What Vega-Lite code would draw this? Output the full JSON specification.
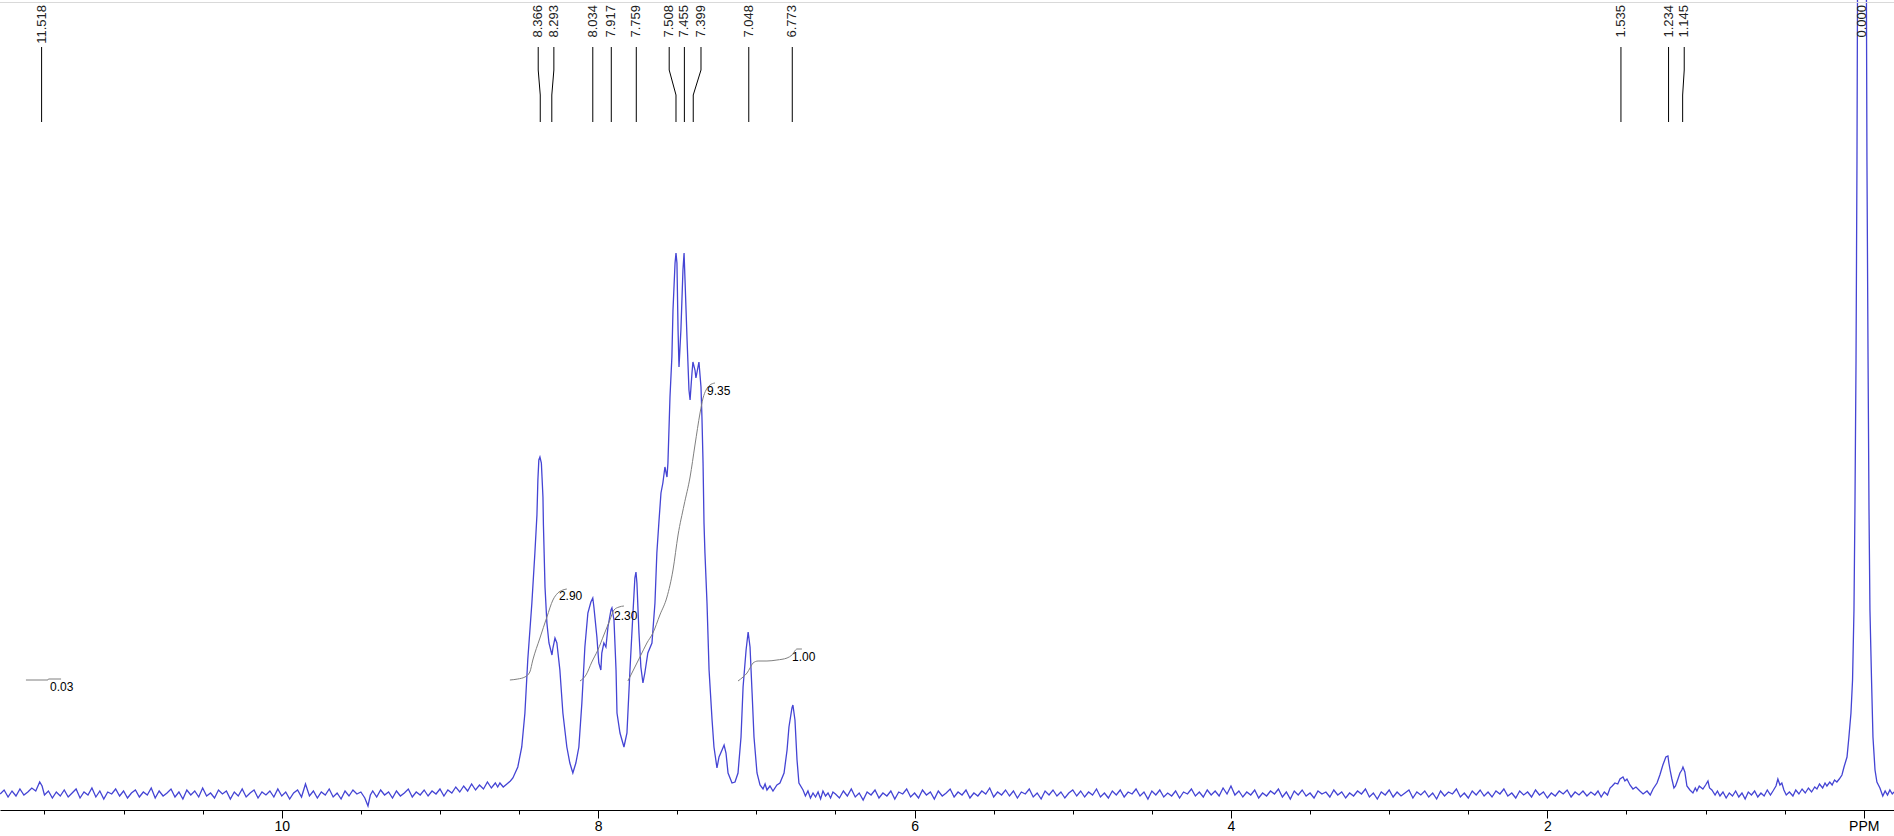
{
"$schema":"https://vega.github.io/schema/vega-lite/v6.json",
"width":1894,"height":810,
"autosize":{"type":"none"},
"padding":{"left":0,"right":0,"top":0,"bottom":26},
"background":"white",
"config":{"view":{"stroke":null},"font":"Liberation Sans"},
"datasets":{
"spec":[
{"p":11.780,"v":16},{"p":11.755,"v":20},{"p":11.730,"v":13},{"p":11.705,"v":19},{"p":11.680,"v":14},{"p":11.655,"v":21},{"p":11.630,"v":15},{"p":11.605,"v":18},{"p":11.580,"v":22},{"p":11.555,"v":19},{"p":11.530,"v":28},{"p":11.515,"v":24},{"p":11.500,"v":15},{"p":11.475,"v":19},{"p":11.450,"v":12},{"p":11.425,"v":18},{"p":11.400,"v":14},{"p":11.375,"v":20},{"p":11.350,"v":13},{"p":11.325,"v":17},{"p":11.300,"v":21},{"p":11.275,"v":12},{"p":11.250,"v":18},{"p":11.225,"v":15},{"p":11.200,"v":22},{"p":11.175,"v":13},{"p":11.150,"v":19},{"p":11.125,"v":11},{"p":11.100,"v":18},{"p":11.075,"v":16},{"p":11.050,"v":21},{"p":11.025,"v":14},{"p":11.000,"v":19},{"p":10.975,"v":12},{"p":10.950,"v":17},{"p":10.925,"v":20},{"p":10.900,"v":13},{"p":10.875,"v":18},{"p":10.850,"v":15},{"p":10.825,"v":22},{"p":10.800,"v":12},{"p":10.775,"v":19},{"p":10.750,"v":14},{"p":10.725,"v":17},{"p":10.700,"v":21},{"p":10.675,"v":13},{"p":10.650,"v":18},{"p":10.625,"v":11},{"p":10.600,"v":20},{"p":10.575,"v":15},{"p":10.550,"v":19},{"p":10.525,"v":13},{"p":10.500,"v":22},{"p":10.475,"v":14},{"p":10.450,"v":17},{"p":10.425,"v":12},{"p":10.400,"v":20},{"p":10.375,"v":16},{"p":10.350,"v":19},{"p":10.325,"v":11},{"p":10.300,"v":18},{"p":10.275,"v":14},{"p":10.250,"v":21},{"p":10.225,"v":13},{"p":10.200,"v":17},{"p":10.175,"v":20},{"p":10.150,"v":12},{"p":10.125,"v":18},{"p":10.100,"v":15},{"p":10.075,"v":19},{"p":10.050,"v":13},{"p":10.025,"v":21},{"p":10.000,"v":14},{"p":9.975,"v":18},{"p":9.950,"v":11},{"p":9.925,"v":17},{"p":9.900,"v":20},{"p":9.875,"v":13},{"p":9.850,"v":26},{"p":9.825,"v":14},{"p":9.800,"v":19},{"p":9.775,"v":12},{"p":9.750,"v":18},{"p":9.725,"v":15},{"p":9.700,"v":21},{"p":9.675,"v":13},{"p":9.650,"v":17},{"p":9.625,"v":11},{"p":9.600,"v":19},{"p":9.575,"v":14},{"p":9.550,"v":20},{"p":9.525,"v":16},{"p":9.500,"v":18},{"p":9.475,"v":12},{"p":9.455,"v":4},{"p":9.440,"v":15},{"p":9.425,"v":19},{"p":9.400,"v":13},{"p":9.375,"v":20},{"p":9.350,"v":15},{"p":9.325,"v":18},{"p":9.300,"v":12},{"p":9.275,"v":19},{"p":9.250,"v":14},{"p":9.225,"v":17},{"p":9.200,"v":21},{"p":9.175,"v":13},{"p":9.150,"v":18},{"p":9.125,"v":15},{"p":9.100,"v":20},{"p":9.075,"v":14},{"p":9.050,"v":19},{"p":9.025,"v":16},{"p":9.000,"v":21},{"p":8.975,"v":14},{"p":8.950,"v":20},{"p":8.925,"v":17},{"p":8.900,"v":23},
{"p":8.875,"v":18},{"p":8.850,"v":24},{"p":8.825,"v":19},{"p":8.800,"v":26},{"p":8.775,"v":20},{"p":8.750,"v":25},{"p":8.725,"v":21},{"p":8.700,"v":28},{"p":8.675,"v":22},{"p":8.650,"v":27},{"p":8.635,"v":23},
{"p":8.621,"v":27},{"p":8.600,"v":23},{"p":8.577,"v":26},{"p":8.555,"v":29},{"p":8.539,"v":32},{"p":8.508,"v":43},{"p":8.483,"v":63},{"p":8.463,"v":97},{"p":8.445,"v":150},{"p":8.419,"v":207},{"p":8.400,"v":257},{"p":8.387,"v":295},{"p":8.381,"v":330},{"p":8.375,"v":350},{"p":8.368,"v":353},{"p":8.359,"v":347},{"p":8.349,"v":313},{"p":8.346,"v":285},{"p":8.336,"v":223},{"p":8.324,"v":187},{"p":8.311,"v":167},{"p":8.292,"v":155},{"p":8.286,"v":162},{"p":8.273,"v":172},{"p":8.261,"v":167},{"p":8.242,"v":140},{"p":8.223,"v":97},{"p":8.198,"v":63},{"p":8.179,"v":47},{"p":8.160,"v":37},{"p":8.141,"v":47},{"p":8.122,"v":63},{"p":8.103,"v":107},{"p":8.084,"v":163},{"p":8.065,"v":197},{"p":8.046,"v":208},{"p":8.034,"v":212},{"p":8.027,"v":203},{"p":8.008,"v":173},{"p":7.996,"v":147},{"p":7.983,"v":140},{"p":7.977,"v":157},{"p":7.964,"v":167},{"p":7.951,"v":163},{"p":7.938,"v":183},{"p":7.919,"v":200},{"p":7.913,"v":202},{"p":7.900,"v":190},{"p":7.887,"v":140},{"p":7.881,"v":97},{"p":7.862,"v":77},{"p":7.837,"v":63},{"p":7.818,"v":77},{"p":7.799,"v":140},{"p":7.780,"v":197},{"p":7.768,"v":232},{"p":7.761,"v":238},{"p":7.755,"v":227},{"p":7.742,"v":177},{"p":7.730,"v":143},{"p":7.717,"v":127},{"p":7.705,"v":137},{"p":7.686,"v":157},{"p":7.660,"v":167},{"p":7.641,"v":207},{"p":7.629,"v":257},{"p":7.616,"v":288},{"p":7.603,"v":317},{"p":7.591,"v":327},{"p":7.578,"v":343},{"p":7.565,"v":333},{"p":7.559,"v":347},{"p":7.546,"v":413},{"p":7.534,"v":453},{"p":7.527,"v":500},{"p":7.514,"v":547},{"p":7.508,"v":557},{"p":7.502,"v":547},{"p":7.495,"v":480},{"p":7.489,"v":443},{"p":7.477,"v":480},{"p":7.464,"v":540},{"p":7.457,"v":557},{"p":7.451,"v":530},{"p":7.438,"v":470},{"p":7.426,"v":420},{"p":7.419,"v":410},{"p":7.407,"v":437},{"p":7.401,"v":448},{"p":7.388,"v":440},{"p":7.382,"v":432},{"p":7.369,"v":443},{"p":7.363,"v":448},{"p":7.350,"v":423},{"p":7.344,"v":393},{"p":7.337,"v":347},{"p":7.331,"v":287},{"p":7.325,"v":257},{"p":7.312,"v":207},{"p":7.299,"v":140},{"p":7.280,"v":90},{"p":7.268,"v":63},{"p":7.249,"v":42},{"p":7.236,"v":53},{"p":7.217,"v":60},{"p":7.204,"v":65},{"p":7.192,"v":57},{"p":7.179,"v":37},{"p":7.154,"v":27},{"p":7.135,"v":28},{"p":7.116,"v":37},{"p":7.097,"v":73},{"p":7.084,"v":123},{"p":7.065,"v":160},{"p":7.052,"v":178},{"p":7.040,"v":163},{"p":7.027,"v":117},{"p":7.015,"v":73},{"p":6.996,"v":37},{"p":6.977,"v":25},{"p":6.958,"v":21},{"p":6.945,"v":26},{"p":6.933,"v":20},{"p":6.914,"v":24},{"p":6.895,"v":19},{"p":6.870,"v":25},{"p":6.851,"v":27},{"p":6.825,"v":37},{"p":6.806,"v":60},{"p":6.794,"v":83},{"p":6.775,"v":102},{"p":6.769,"v":105},{"p":6.756,"v":90},{"p":6.743,"v":50},{"p":6.731,"v":27},{"p":6.705,"v":20},{"p":6.690,"v":14},{"p":6.674,"v":19},{"p":6.658,"v":12},{"p":6.642,"v":17},{"p":6.626,"v":13},{"p":6.610,"v":18},{"p":6.594,"v":11},{"p":6.579,"v":19},{"p":6.563,"v":14},{"p":6.547,"v":17},{"p":6.531,"v":12},{"p":6.516,"v":18},
{"p":6.500,"v":16},{"p":6.475,"v":12},{"p":6.450,"v":19},{"p":6.425,"v":14},{"p":6.400,"v":21},{"p":6.375,"v":13},{"p":6.350,"v":17},{"p":6.325,"v":10},{"p":6.300,"v":18},{"p":6.275,"v":15},{"p":6.250,"v":20},{"p":6.225,"v":12},{"p":6.200,"v":17},{"p":6.175,"v":14},{"p":6.150,"v":19},{"p":6.125,"v":11},{"p":6.100,"v":18},{"p":6.075,"v":16},{"p":6.050,"v":21},{"p":6.025,"v":13},{"p":6.000,"v":17},{"p":5.975,"v":12},{"p":5.950,"v":20},{"p":5.925,"v":15},{"p":5.900,"v":18},{"p":5.875,"v":11},{"p":5.850,"v":19},{"p":5.825,"v":14},{"p":5.800,"v":17},{"p":5.775,"v":21},{"p":5.750,"v":13},{"p":5.725,"v":18},{"p":5.700,"v":15},{"p":5.675,"v":20},{"p":5.650,"v":12},{"p":5.625,"v":17},{"p":5.600,"v":14},{"p":5.575,"v":19},{"p":5.550,"v":16},{"p":5.525,"v":22},{"p":5.500,"v":13},{"p":5.475,"v":18},{"p":5.450,"v":15},{"p":5.425,"v":20},{"p":5.400,"v":14},{"p":5.375,"v":19},{"p":5.350,"v":12},{"p":5.325,"v":18},{"p":5.300,"v":16},{"p":5.275,"v":21},{"p":5.250,"v":13},{"p":5.225,"v":17},{"p":5.200,"v":11},{"p":5.175,"v":19},{"p":5.150,"v":15},{"p":5.125,"v":20},{"p":5.100,"v":14},{"p":5.075,"v":18},{"p":5.050,"v":12},{"p":5.025,"v":17},{"p":5.000,"v":20},{"p":4.975,"v":14},{"p":4.950,"v":19},{"p":4.925,"v":13},{"p":4.900,"v":18},{"p":4.875,"v":15},{"p":4.850,"v":21},{"p":4.825,"v":13},{"p":4.800,"v":17},{"p":4.775,"v":12},{"p":4.750,"v":19},{"p":4.725,"v":15},{"p":4.700,"v":20},{"p":4.675,"v":13},{"p":4.650,"v":18},{"p":4.625,"v":16},{"p":4.600,"v":21},{"p":4.575,"v":14},{"p":4.550,"v":18},{"p":4.525,"v":11},{"p":4.500,"v":19},{"p":4.475,"v":15},{"p":4.450,"v":20},{"p":4.425,"v":13},{"p":4.400,"v":17},{"p":4.375,"v":14},{"p":4.350,"v":19},{"p":4.325,"v":12},{"p":4.300,"v":18},{"p":4.275,"v":16},{"p":4.250,"v":21},{"p":4.225,"v":14},{"p":4.200,"v":18},{"p":4.175,"v":13},{"p":4.150,"v":20},{"p":4.125,"v":15},{"p":4.100,"v":19},{"p":4.075,"v":14},{"p":4.050,"v":22},{"p":4.025,"v":16},{"p":4.000,"v":24},{"p":3.975,"v":15},{"p":3.950,"v":19},{"p":3.925,"v":13},{"p":3.900,"v":18},{"p":3.875,"v":15},{"p":3.850,"v":20},{"p":3.825,"v":12},{"p":3.800,"v":17},{"p":3.775,"v":14},{"p":3.750,"v":19},{"p":3.725,"v":16},{"p":3.700,"v":21},{"p":3.675,"v":13},{"p":3.650,"v":18},{"p":3.625,"v":11},{"p":3.600,"v":19},{"p":3.575,"v":15},{"p":3.550,"v":20},{"p":3.525,"v":14},{"p":3.500,"v":17},{"p":3.475,"v":12},{"p":3.450,"v":19},{"p":3.425,"v":16},{"p":3.400,"v":18},{"p":3.375,"v":13},{"p":3.350,"v":20},{"p":3.325,"v":15},{"p":3.300,"v":18},{"p":3.275,"v":12},{"p":3.250,"v":17},{"p":3.225,"v":14},{"p":3.200,"v":19},{"p":3.175,"v":16},{"p":3.150,"v":21},{"p":3.125,"v":13},{"p":3.100,"v":17},{"p":3.075,"v":11},{"p":3.050,"v":18},{"p":3.025,"v":15},{"p":3.000,"v":20},{"p":2.975,"v":13},{"p":2.950,"v":18},{"p":2.925,"v":14},{"p":2.900,"v":17},{"p":2.875,"v":20},{"p":2.850,"v":12},{"p":2.825,"v":18},{"p":2.800,"v":15},{"p":2.775,"v":19},{"p":2.750,"v":13},{"p":2.725,"v":17},{"p":2.700,"v":11},{"p":2.675,"v":19},{"p":2.650,"v":14},{"p":2.625,"v":18},{"p":2.600,"v":16},{"p":2.575,"v":21},{"p":2.550,"v":13},{"p":2.525,"v":17},{"p":2.500,"v":12},{"p":2.475,"v":19},{"p":2.450,"v":15},{"p":2.425,"v":20},{"p":2.400,"v":14},{"p":2.375,"v":18},{"p":2.350,"v":13},{"p":2.325,"v":19},{"p":2.300,"v":16},{"p":2.275,"v":21},{"p":2.250,"v":14},{"p":2.225,"v":17},{"p":2.200,"v":12},{"p":2.175,"v":19},{"p":2.150,"v":15},{"p":2.125,"v":18},{"p":2.100,"v":13},{"p":2.075,"v":20},{"p":2.050,"v":15},{"p":2.025,"v":18},{"p":2.000,"v":12},{"p":1.975,"v":17},{"p":1.950,"v":14},{"p":1.925,"v":19},{"p":1.900,"v":16},{"p":1.875,"v":20},{"p":1.850,"v":13},{"p":1.825,"v":18},{"p":1.800,"v":15},{"p":1.775,"v":19},{"p":1.750,"v":14},{"p":1.725,"v":18},
{"p":1.700,"v":15},{"p":1.680,"v":19},{"p":1.660,"v":13},{"p":1.640,"v":18},{"p":1.620,"v":15},{"p":1.604,"v":22},{"p":1.590,"v":24},{"p":1.573,"v":27},{"p":1.555,"v":26},{"p":1.541,"v":31},{"p":1.522,"v":33},{"p":1.510,"v":29},{"p":1.497,"v":31},{"p":1.478,"v":25},{"p":1.459,"v":21},{"p":1.440,"v":23},{"p":1.415,"v":19},{"p":1.395,"v":16},{"p":1.370,"v":19},{"p":1.350,"v":15},{"p":1.332,"v":21},{"p":1.307,"v":27},{"p":1.289,"v":35},{"p":1.270,"v":45},{"p":1.251,"v":53},{"p":1.238,"v":54},{"p":1.232,"v":47},{"p":1.222,"v":38},{"p":1.213,"v":31},{"p":1.200,"v":22},{"p":1.190,"v":24},{"p":1.181,"v":28},{"p":1.162,"v":37},{"p":1.150,"v":40},{"p":1.143,"v":43},{"p":1.131,"v":38},{"p":1.118,"v":24},{"p":1.099,"v":20},{"p":1.080,"v":17},{"p":1.065,"v":22},{"p":1.055,"v":19},{"p":1.040,"v":24},{"p":1.017,"v":21},{"p":1.000,"v":25},{"p":0.985,"v":29},{"p":0.975,"v":22},{"p":0.960,"v":20},{"p":0.940,"v":15},{"p":0.925,"v":19},{"p":0.909,"v":14},{"p":0.890,"v":18},{"p":0.870,"v":12},{"p":0.850,"v":17},{"p":0.830,"v":14},{"p":0.810,"v":19},{"p":0.790,"v":13},{"p":0.770,"v":17},{"p":0.750,"v":11},{"p":0.730,"v":18},{"p":0.710,"v":15},{"p":0.690,"v":19},{"p":0.670,"v":13},{"p":0.650,"v":17},{"p":0.630,"v":14},{"p":0.610,"v":20},{"p":0.590,"v":15},{"p":0.574,"v":19},{"p":0.555,"v":24},{"p":0.543,"v":31},{"p":0.530,"v":25},{"p":0.518,"v":27},{"p":0.505,"v":20},{"p":0.490,"v":15},{"p":0.470,"v":18},{"p":0.448,"v":14},{"p":0.430,"v":20},{"p":0.410,"v":16},{"p":0.390,"v":21},{"p":0.370,"v":17},{"p":0.350,"v":22},{"p":0.330,"v":18},{"p":0.310,"v":23},{"p":0.296,"v":21},{"p":0.280,"v":26},{"p":0.260,"v":22},{"p":0.245,"v":27},{"p":0.233,"v":24},{"p":0.215,"v":28},{"p":0.200,"v":25},{"p":0.185,"v":30},{"p":0.170,"v":28},{"p":0.155,"v":31},{"p":0.138,"v":35},{"p":0.125,"v":43},{"p":0.106,"v":53},{"p":0.094,"v":73},{"p":0.081,"v":97},
{"p":0.071,"v":130},{"p":0.062,"v":200},{"p":0.056,"v":300},{"p":0.049,"v":450},{"p":0.043,"v":650},{"p":0.039,"v":850},{"p":0.030,"v":1200},{"p":0.011,"v":1500},{"p":-0.008,"v":1200},{"p":-0.016,"v":850},{"p":-0.020,"v":650},{"p":-0.027,"v":450},{"p":-0.033,"v":300},{"p":-0.039,"v":200},{"p":-0.049,"v":130},{"p":-0.058,"v":73},{"p":-0.071,"v":40},{"p":-0.083,"v":28},{"p":-0.102,"v":22},
{"p":-0.120,"v":14},{"p":-0.135,"v":19},{"p":-0.150,"v":15},{"p":-0.165,"v":20},{"p":-0.180,"v":16},{"p":-0.191,"v":18}
],
"integ":[
{"g":"a","p":11.617,"v":130},{"g":"a","p":11.478,"v":130},{"g":"a","p":11.475,"v":131},{"g":"a","p":11.395,"v":131},
{"g":"b","p":8.558,"v":130},{"g":"b","p":8.508,"v":131},{"g":"b","p":8.463,"v":133},{"g":"b","p":8.432,"v":138},{"g":"b","p":8.413,"v":150},{"g":"b","p":8.368,"v":172},{"g":"b","p":8.324,"v":193},{"g":"b","p":8.286,"v":210},{"g":"b","p":8.255,"v":217},{"g":"b","p":8.223,"v":220},{"g":"b","p":8.198,"v":221},
{"g":"c","p":8.115,"v":129},{"g":"c","p":8.077,"v":135},{"g":"c","p":8.040,"v":148},{"g":"c","p":8.002,"v":160},{"g":"c","p":7.964,"v":175},{"g":"c","p":7.926,"v":190},{"g":"c","p":7.900,"v":200},{"g":"c","p":7.868,"v":203},{"g":"c","p":7.837,"v":204},
{"g":"d","p":7.812,"v":129},{"g":"d","p":7.774,"v":141},{"g":"d","p":7.736,"v":153},{"g":"d","p":7.692,"v":167},{"g":"d","p":7.654,"v":177},{"g":"d","p":7.610,"v":195},{"g":"d","p":7.565,"v":213},{"g":"d","p":7.527,"v":240},{"g":"d","p":7.495,"v":275},{"g":"d","p":7.457,"v":305},{"g":"d","p":7.419,"v":333},{"g":"d","p":7.388,"v":365},{"g":"d","p":7.356,"v":397},{"g":"d","p":7.337,"v":412},{"g":"d","p":7.318,"v":420},{"g":"d","p":7.293,"v":425},{"g":"d","p":7.262,"v":427},
{"g":"e","p":7.116,"v":129},{"g":"e","p":7.084,"v":133},{"g":"e","p":7.059,"v":137},{"g":"e","p":7.040,"v":142},{"g":"e","p":7.021,"v":147},{"g":"e","p":6.989,"v":149},{"g":"e","p":6.933,"v":149},{"g":"e","p":6.870,"v":150},{"g":"e","p":6.806,"v":152},{"g":"e","p":6.775,"v":155},{"g":"e","p":6.743,"v":161},{"g":"e","p":6.712,"v":161}
],
"ilab":[
{"t":"0.03","p":11.465,"v":123},{"t":"2.90","p":8.248,"v":214},{"t":"2.30","p":7.900,"v":194},{"t":"9.35","p":7.312,"v":419},{"t":"1.00","p":6.775,"v":153}
],
"peaks":[
{"ppm":11.518,"lp":11.518,"t":"11.518"},{"ppm":8.366,"lp":8.379,"t":"8.366"},{"ppm":8.293,"lp":8.280,"t":"8.293"},{"ppm":8.034,"lp":8.034,"t":"8.034"},{"ppm":7.917,"lp":7.917,"t":"7.917"},{"ppm":7.759,"lp":7.759,"t":"7.759"},{"ppm":7.508,"lp":7.551,"t":"7.508"},{"ppm":7.455,"lp":7.455,"t":"7.455"},{"ppm":7.399,"lp":7.350,"t":"7.399"},{"ppm":7.048,"lp":7.048,"t":"7.048"},{"ppm":6.773,"lp":6.773,"t":"6.773"},{"ppm":1.535,"lp":1.535,"t":"1.535"},{"ppm":1.234,"lp":1.234,"t":"1.234"},{"ppm":1.145,"lp":1.135,"t":"1.145"},{"ppm":0.000,"lp":0.013,"t":"0.000"}
]
},
"layer":[
{"data":{"name":"spec"},"mark":{"type":"line","color":"#4444d4","strokeWidth":1.3,"clip":true},
 "encoding":{
  "x":{"field":"p","type":"quantitative","scale":{"domain":[-0.191,11.781],"reverse":true,"nice":false,"zero":false},
   "axis":{"title":null,"grid":false,"values":[0,0.5,1,1.5,2,2.5,3,3.5,4,4.5,5,5.5,6,6.5,7,7.5,8,8.5,9,9.5,10,10.5,11,11.5],
    "labelExpr":"datum.value === 0 ? 'PPM' : (datum.value % 2 === 0 ? format(datum.value, 'd') : '')",
    "domainColor":"#000","domainWidth":1,"tickColor":"#000","tickWidth":1,
    "tickSize":{"condition":{"test":"datum.value % 2 === 0","value":8},"value":4},
    "labelFontSize":14,"labelColor":"#000","labelFont":"Liberation Sans","labelPadding":1,"labelOverlap":false,"labelFlush":false}},
  "y":{"field":"v","type":"quantitative","scale":{"domain":[0,810],"nice":false,"zero":false},"axis":null}}},
{"data":{"values":[{}]},"mark":{"type":"rule","color":"#d9d9d9","strokeWidth":1},
 "encoding":{"y":{"datum":807.5,"type":"quantitative"}}},
{"data":{"name":"integ"},"mark":{"type":"line","color":"#7f7f7f","strokeWidth":1,"interpolate":"monotone"},
 "encoding":{"x":{"field":"p","type":"quantitative"},"y":{"field":"v","type":"quantitative"},"detail":{"field":"g"}}},
{"data":{"name":"ilab"},"mark":{"type":"text","align":"left","baseline":"middle","fontSize":12,"color":"#000","font":"Liberation Sans"},
 "encoding":{"x":{"field":"p","type":"quantitative"},"y":{"field":"v","type":"quantitative"},"text":{"field":"t"}}},
{"data":{"name":"peaks"},"transform":[{"filter":"datum.t !== '0.000'"}],"mark":{"type":"rule","color":"#000","strokeWidth":1},
 "encoding":{"x":{"field":"lp","type":"quantitative"},"y":{"datum":763,"type":"quantitative"},"y2":{"datum":740}}},
{"data":{"name":"peaks"},"transform":[{"filter":"datum.t !== '0.000'"}],"mark":{"type":"rule","color":"#000","strokeWidth":1},
 "encoding":{"x":{"field":"lp","type":"quantitative"},"x2":{"field":"ppm"},"y":{"datum":740,"type":"quantitative"},"y2":{"datum":715}}},
{"data":{"name":"peaks"},"transform":[{"filter":"datum.t !== '0.000'"}],"mark":{"type":"rule","color":"#000","strokeWidth":1},
 "encoding":{"x":{"field":"ppm","type":"quantitative"},"y":{"datum":715,"type":"quantitative"},"y2":{"datum":688}}},
{"data":{"name":"peaks"},"mark":{"type":"text","angle":270,"align":"right","baseline":"middle","fontSize":13,"color":"#222","font":"Liberation Sans"},
 "encoding":{"x":{"field":"lp","type":"quantitative"},"y":{"datum":805,"type":"quantitative"},"text":{"field":"t"}}}
]
}
